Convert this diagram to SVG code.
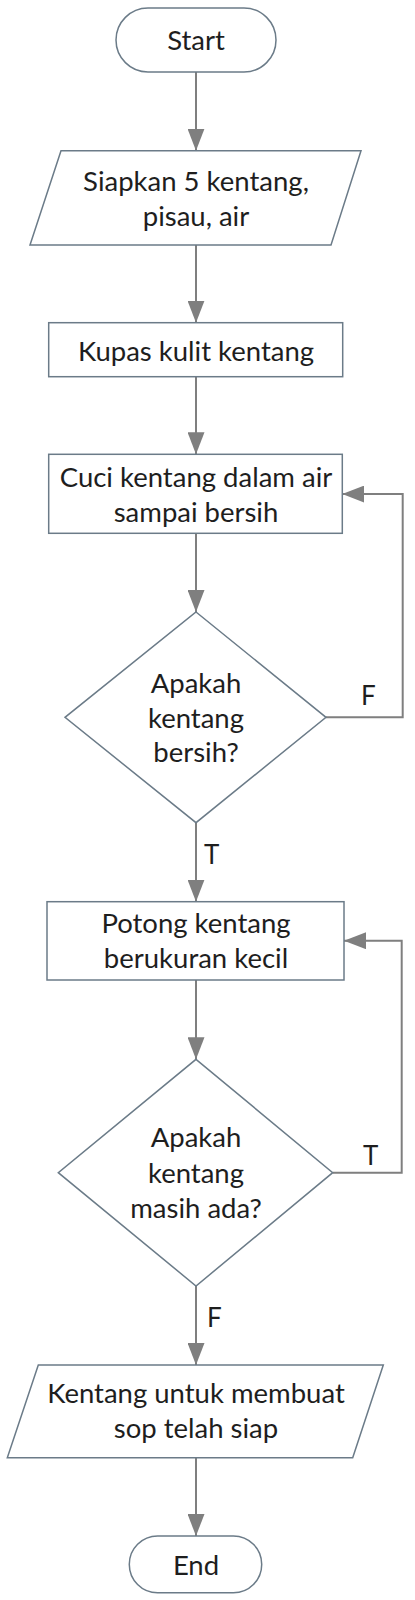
<svg xmlns="http://www.w3.org/2000/svg" width="415" height="1600" viewBox="0 0 415 1600">
<style>
.node{fill:#fff;stroke:#6b7b88;stroke-width:1.5}
.lbl{font-family:Lato,"Noto Sans",sans-serif;font-size:27.5px;fill:#1e1e1e;text-anchor:middle}
.edge{fill:none;stroke:#7f7f7f;stroke-width:2}
.elbl{font-family:Lato,"Noto Sans",sans-serif;font-size:26px;fill:#1e1e1e}
</style>
<defs>
<marker id="arr" markerUnits="userSpaceOnUse" markerWidth="22" markerHeight="17" refX="22" refY="8.5" orient="auto">
<path d="M0,0 L22,8.5 L0,17 z" fill="#7f7f7f"/>
</marker>
</defs>
<rect width="415" height="1600" fill="#fff"/>
<g id="connectors">
<line class="edge" x1="196" y1="72" x2="196" y2="150.7" marker-end="url(#arr)"/>
<line class="edge" x1="196" y1="245" x2="196" y2="322.7" marker-end="url(#arr)"/>
<line class="edge" x1="196" y1="376.7" x2="196" y2="454.3" marker-end="url(#arr)"/>
<line class="edge" x1="196" y1="533.3" x2="196" y2="612" marker-end="url(#arr)"/>
<polyline class="edge" points="326,717.3 402.7,717.3 402.7,494 342.3,494" marker-end="url(#arr)"/>
<line class="edge" x1="196" y1="822.7" x2="196" y2="901.7" marker-end="url(#arr)"/>
<line class="edge" x1="196" y1="980" x2="196" y2="1059.3" marker-end="url(#arr)"/>
<polyline class="edge" points="332.7,1172.7 401.7,1172.7 401.7,940.7 344,940.7" marker-end="url(#arr)"/>
<line class="edge" x1="196" y1="1286" x2="196" y2="1365" marker-end="url(#arr)"/>
<line class="edge" x1="196" y1="1457.7" x2="196" y2="1536" marker-end="url(#arr)"/>
<text class="elbl" x="361" y="705">F</text>
<text class="elbl" x="204" y="864">T</text>
<text class="elbl" x="363" y="1165">T</text>
<text class="elbl" x="207" y="1327">F</text>
</g>
<g id="start">
<rect class="node" x="116" y="8" width="160" height="64" rx="32" ry="32"/>
<text class="lbl" x="196" y="50">Start</text>
</g>
<g id="input1">
<polygon class="node" points="61,150.7 361,150.7 331,245 30,245"/>
<text class="lbl" x="196" y="190.7">Siapkan 5 kentang,</text>
<text class="lbl" x="196" y="225.7">pisau, air</text>
</g>
<g id="kupas">
<rect class="node" x="48.7" y="322.7" width="294" height="54"/>
<text class="lbl" x="196" y="360.7">Kupas kulit kentang</text>
</g>
<g id="cuci">
<rect class="node" x="48.7" y="454.3" width="293.6" height="79"/>
<text class="lbl" x="196" y="487.3">Cuci kentang dalam air</text>
<text class="lbl" x="196" y="521.7">sampai bersih</text>
</g>
<g id="decision1">
<polygon class="node" points="196,612 326,717.3 196,822.7 65,717.3"/>
<text class="lbl" x="196" y="692.7">Apakah</text>
<text class="lbl" x="196" y="728.3">kentang</text>
<text class="lbl" x="196" y="762.3">bersih?</text>
</g>
<g id="potong">
<rect class="node" x="47" y="901.7" width="297" height="78.3"/>
<text class="lbl" x="196" y="933.3">Potong kentang</text>
<text class="lbl" x="196" y="968.3">berukuran kecil</text>
</g>
<g id="decision2">
<polygon class="node" points="196,1059.3 332.7,1172.7 196,1286 58.3,1172.7"/>
<text class="lbl" x="196" y="1146.7">Apakah</text>
<text class="lbl" x="196" y="1183.3">kentang</text>
<text class="lbl" x="196" y="1217.7">masih ada?</text>
</g>
<g id="output">
<polygon class="node" points="38.3,1365 383.3,1365 352.7,1457.7 7.3,1457.7"/>
<text class="lbl" x="196" y="1403.3">Kentang untuk membuat</text>
<text class="lbl" x="196" y="1438.3">sop telah siap</text>
</g>
<g id="end">
<rect class="node" x="129.3" y="1536" width="132.4" height="56.7" rx="28.3" ry="28.3"/>
<text class="lbl" x="196" y="1575">End</text>
</g>
</svg>
